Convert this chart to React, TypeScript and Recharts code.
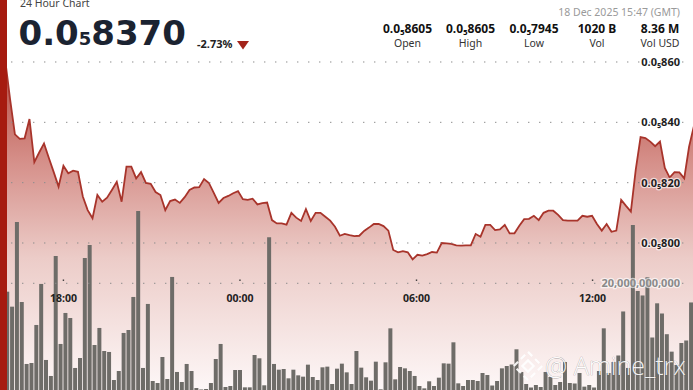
import React from 'react';
import { ComposedChart, Area, Bar, XAxis, YAxis, ReferenceLine } from 'recharts';

// price in units of 0.0₅01 (1e-8), one point every 10 minutes
const PRICES = [
  860.5, 847.7, 836.0, 834.5, 834.7, 841.1, 826.8, 830.0, 833.0, 828.2,
  823.5, 818.7, 825.6, 823.1, 824.0, 823.6, 815.4, 810.9, 808.2, 815.9,
  813.7, 815.0, 817.6, 820.3, 813.7, 825.3, 825.3, 821.4, 823.5, 819.9,
  819.6, 816.9, 815.9, 810.9, 813.9, 814.4, 813.3, 815.2, 817.6, 818.4,
  818.5, 821.2, 819.9, 816.6, 813.3, 814.9, 815.6, 816.5, 817.2, 814.5,
  814.3, 814.7, 812.8, 813.2, 813.4, 807.6, 806.5, 806.5, 806.1, 810.0,
  808.4, 807.3, 811.2, 807.3, 810.0, 810.0, 808.7, 807.4, 805.4, 802.4,
  803.0, 802.6, 802.3, 802.4, 804.0, 805.1, 806.3, 806.3, 805.6, 804.1,
  797.7, 796.9, 797.3, 796.9, 794.6, 796.1, 795.8, 796.3, 797.0, 796.8,
  800.0, 799.9, 799.7, 799.2, 799.1, 799.2, 799.2, 803.0, 802.1, 806.0,
  806.0, 804.3, 804.5, 806.0, 803.2, 803.2, 805.7, 807.9, 808.0, 809.0,
  807.6, 810.0, 810.7, 810.7, 809.3, 807.6, 807.4, 807.4, 807.4, 809.0,
  808.7, 809.0, 806.3, 804.1, 806.3, 803.7, 804.1, 814.3, 812.3, 810.4,
  824.2, 835.1, 834.8, 833.6, 832.1, 833.6, 824.9, 821.7, 823.5, 823.4,
  821.4, 831.9, 838.8,
];

// volume in billions per 10 minute bar
const VOLUMES = [
  18.43, 15.62, 31.5, 16.5, 4.88, 5.06, 12.19, 19.88, 5.63, 2.63,
  25.13, 8.63, 14.44, 13.5, 4.13, 6.0, 24.75, 27.19, 8.44, 11.63,
  7.31, 7.13, 1.88, 3.56, 10.69, 11.25, 17.44, 33.56, 4.13, 16.13,
  1.69, 1.31, 6.19, 2.06, 21.19, 3.38, 1.5, 4.88, 3.56, 0.38,
  0.1, 0.19, 1.31, 5.81, 8.63, 0.56, 0.75, 3.75, 3.75, 0.5,
  0.5, 6.56, 5.94, 0.88, 28.63, 4.88, 3.81, 3.94, 2.19, 3.81,
  2.75, 2.5, 4.75, 2.44, 1.88, 4.25, 4.38, 1.13, 4.0, 4.94,
  3.31, 1.13, 7.31, 4.19, 2.38, 1.75, 5.31, 0.13, 5.19, 11.56,
  2.0, 4.31, 4.06, 3.56, 2.63, 0.75, 0.31, 1.63, 0.75, 2.31,
  5.0, 4.94, 8.94, 1.25, 0.75, 1.88, 1.88, 1.69, 3.19, 2.81,
  0.84, 1.69, 4.06, 4.5, 4.78, 7.63, 3.38, 1.13, 0.47, 0.94,
  0.56, 3.38, 2.44, 0.94, 1.5, 5.25, 1.31, 1.22, 3.19, 0.63,
  0.94, 0.47, 3.56, 11.56, 3.19, 5.25, 6.47, 14.72, 4.13, 30.94,
  18.56, 17.72, 21.13, 9.84, 16.25, 14.34, 10.46, 7.19, 4.69, 8.81,
  9.28, 16.41,
];

const PRICE_TICKS = [800, 820, 840, 860];
const VOL_TICK = 20;
const VOL_TICK_LABEL = '20,000,000,000';

// bar index where each hour label sits
const TIME_TICKS = [11.5, 47.9, 84.3, 120.6];
const TIME_LABELS = ['18:00', '00:00', '06:00', '12:00'];

const STAT_VALUES = ['0.0₅8605', '0.0₅8605', '0.0₅7945', '1020 B', '8.36 M'];
const STAT_LABELS = ['Open', 'High', 'Low', 'Vol', 'Vol USD'];
const STAT_X = [407.5, 470.5, 534, 597, 660];

const data = PRICES.map((p, i) => ({ i, price: p, vol: VOLUMES[i] }));

const FONT = "'Noto Sans', 'Open Sans', sans-serif";

// hour label, drawn a fixed distance above the bottom of the plot
const TimeLabel = (props: any) => {
  const { viewBox, text } = props;
  const bottom = viewBox.y + viewBox.height;
  return (
    <g>
      <rect x={viewBox.x - 0.7} y={bottom - 110.5} width={1.4} height={1.4} fill="#333" />
      <text x={viewBox.x} y={bottom - 88.5} textAnchor="middle" fontFamily={FONT} fontSize={10.5} fontWeight={700} fill="#222">
        {text}
      </text>
    </g>
  );
};

const AxisLabel = (props: any) => {
  const { viewBox, text, fill } = props;
  return (
    <text
      x={viewBox.x + viewBox.width - 13}
      y={viewBox.y + 4}
      textAnchor="end"
      fontFamily={FONT}
      fontSize={11}
      fontWeight={700}
      fill={fill}
      stroke="rgba(255,255,255,0.65)"
      strokeWidth={2.5}
      paintOrder="stroke"
    >
      {text}
    </text>
  );
};

const grid = { stroke: '#8c8c8c', strokeDasharray: '1.4 9.6', strokeWidth: 1 };

export default function App() {
  return (
    <div style={{ position: 'absolute', left: 0, top: 0, width: 693, height: 390, overflow: 'hidden', background: '#fff' }}>
      <svg width={0} height={0} style={{ position: 'absolute' }}>
        <defs>
          <linearGradient id="areaFill" x1="0" y1="0" x2="0" y2="1">
            <stop offset="0%" stopColor="#b44a41" />
            <stop offset="30%" stopColor="#d58e88" />
            <stop offset="60%" stopColor="#ecccc8" />
            <stop offset="100%" stopColor="#fdf7f7" />
          </linearGradient>
        </defs>
      </svg>

      <ComposedChart width={693} height={390} data={data} margin={{ top: 0, right: 0, bottom: 0, left: 0 }}>
        <XAxis xAxisId="bars" dataKey="i" type="number" domain={[-1.577, 141.31]} allowDataOverflow hide />
        <XAxis xAxisId="line" dataKey="i" type="number" domain={[-1.077, 141.81]} allowDataOverflow hide />
        <YAxis yAxisId="price" domain={[751.27, 880.55]} allowDataOverflow hide />
        <YAxis yAxisId="vol" domain={[0, 73.1]} allowDataOverflow hide />

        {PRICE_TICKS.map((t) => (
          <ReferenceLine key={'g' + t} xAxisId="bars" yAxisId="price" y={t} {...grid} />
        ))}
        <ReferenceLine xAxisId="bars" yAxisId="vol" y={VOL_TICK} {...grid} />

        <Area
          xAxisId="line"
          yAxisId="price"
          dataKey="price"
          type="linear"
          stroke="#a8342b"
          strokeWidth={1.8}
          fill="url(#areaFill)"
          fillOpacity={1}
          dot={false}
          activeDot={false}
          isAnimationActive={false}
        />
        <ReferenceLine
          xAxisId="bars"
          yAxisId="vol"
          y={VOL_TICK}
          stroke="none"
          label={<AxisLabel text={VOL_TICK_LABEL} fill="#8a8a8a" />}
        />
        <Bar xAxisId="bars" yAxisId="vol" dataKey="vol" barSize={4} fill="#6e6c68" isAnimationActive={false} />
        {TIME_TICKS.map((t, i) => (
          <ReferenceLine
            key={'t' + t}
            xAxisId="bars"
            yAxisId="vol"
            x={t}
            stroke="none"
            label={<TimeLabel text={TIME_LABELS[i]} />}
          />
        ))}
        {PRICE_TICKS.map((t) => (
          <ReferenceLine
            key={'l' + t}
            xAxisId="bars"
            yAxisId="price"
            y={t}
            stroke="none"
            label={<AxisLabel text={'0.0₅' + t} fill="#1e1e1e" />}
          />
        ))}
      </ComposedChart>

      <div style={{ position: 'absolute', left: 0, top: 0, width: 7, height: 390, background: '#a61b10' }} />

      <svg width={693} height={390} style={{ position: 'absolute', left: 0, top: 0, pointerEvents: 'none' }}>
        <text x={20} y={6.5} fontFamily={FONT} fontSize={10.5} fill="#444">24 Hour Chart</text>
        <text x={18.5} y={45} fontFamily="'DejaVu Sans', sans-serif" fontWeight={700} fontSize={34} fill="#1b2331">
          0.0<tspan fontSize={18}>5</tspan>8370
        </text>
        <text x={197} y={48} fontFamily={FONT} fontWeight={700} fontSize={11} fill="#222">-2.73%</text>
        <polygon points="237,41 249,41 243,49.5" fill="#a3241a" />
        <text x={680} y={16} textAnchor="end" fontFamily={FONT} fontSize={10.5} fill="#9a9a9a">
          18 Dec 2025 15:47 (GMT)
        </text>
        {STAT_VALUES.map((v, i) => (
          <text key={'v' + i} x={STAT_X[i]} y={32.5} textAnchor="middle" fontFamily={FONT} fontWeight={700} fontSize={12} fill="#111">
            {v}
          </text>
        ))}
        {STAT_LABELS.map((l, i) => (
          <text key={'s' + i} x={STAT_X[i]} y={46.5} textAnchor="middle" fontFamily={FONT} fontSize={10.5} fill="#333">
            {l}
          </text>
        ))}

        <g opacity={0.9}>
          <g transform="translate(528,366) rotate(45)" fill="none" stroke="#fff" strokeWidth={2.2}>
            <rect x={-4} y={-4} width={8} height={8} />
            <rect x={-10} y={-10} width={20} height={20} strokeDasharray="6 4" />
          </g>
          <text x={545} y={375} fontFamily="'Open Sans', sans-serif" fontWeight={300} fontSize={25}
            fill="#fff" stroke="rgba(90,90,90,0.55)" strokeWidth={0.7} paintOrder="stroke">
            @ Amine_trx
          </text>
        </g>
      </svg>
    </div>
  );
}
